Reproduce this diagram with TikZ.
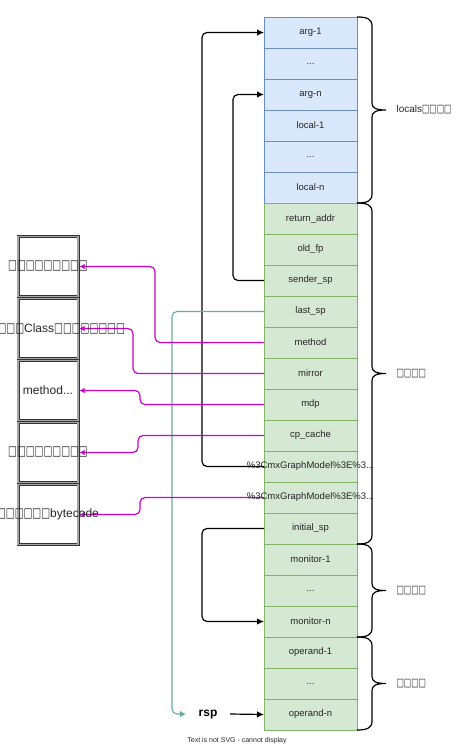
\documentclass[tikz,border=0pt]{standalone}
\usepackage{fontspec}
\setmainfont{Liberation Sans}
\newfontfamily\dvfont{DejaVu Sans}
\usetikzlibrary{arrows.meta}
\definecolor{bfill}{HTML}{DAE8FC}
\definecolor{bstroke}{HTML}{6C8EBF}
\definecolor{gfill}{HTML}{D5E8D4}
\definecolor{gstroke}{HTML}{82B366}
\definecolor{mg}{HTML}{CC00CC}
\definecolor{tl}{HTML}{67AB9F}
\newcommand\tf{\scalebox{0.78}[1.12]{\dvfont\char"25A1}}
\newcommand\curlybr[2]{%
  \pgfmathsetmacro\bmid{(#1+#2)/2}%
  \draw[brc] (357,#1) .. controls (367,#1) and (372,#1+2) .. (372,#1+9)
    -- (372,\bmid-7) .. controls (372,\bmid-2) and (376,\bmid) .. (386,\bmid)
    .. controls (376,\bmid) and (372,\bmid+2) .. (372,\bmid+7)
    -- (372,#2-9) .. controls (372,#2-2) and (367,#2) .. (357,#2);}
\begin{document}
\begin{tikzpicture}[x=1pt,y=-1pt,
  cellfont/.style={font=\fontsize{9.5}{11}\selectfont, text=black!85},
  cell/.style={draw, minimum width=93pt, minimum height=31pt, inner sep=0pt, outer sep=0pt,
    anchor=north west, line width=0.8pt, cellfont},
  bcell/.style={cell, fill=bfill, draw=bstroke},
  gcell/.style={cell, fill=gfill, draw=gstroke},
  lbox/.style={draw=black!80, double=black!35, double distance=1.2pt, line width=0.9pt,
    minimum width=60pt, minimum height=60pt, inner sep=0pt, outer sep=1.5pt, anchor=north west},
  boxtext/.style={font=\fontsize{12}{14}\selectfont, text=black!85},
  blk/.style={draw=black, line width=1.2pt, rounded corners=5pt, -{Latex[length=7pt,width=6.5pt]}},
  mag/.style={draw=mg, line width=1.2pt, rounded corners=5pt, -{Latex[length=5pt,width=5.5pt]}},
  tla/.style={draw=tl, line width=1.1pt, rounded corners=5pt, -{Latex[length=6pt,width=6.5pt]}},
  brc/.style={draw=black, line width=1.2pt},
  brlabel/.style={anchor=west, font=\fontsize{10}{12}\selectfont, text=black!85}
]
\useasboundingbox (0,0) rectangle (474,747);

% stack cells
\node[bcell] (c1) at (264,17) {arg-1};
\node[bcell] (c2) at (264,48) {...};
\node[bcell] (c3) at (264,79) {arg-n};
\node[bcell] (c4) at (264,110) {local-1};
\node[bcell] (c5) at (264,141) {...};
\node[bcell] (c6) at (264,172) {local-n};
\node[gcell] (c7) at (264,203) {return\_addr};
\node[gcell] (c8) at (264,234) {old\_fp};
\node[gcell] (c9) at (264,265) {sender\_sp};
\node[gcell] (c10) at (264,296) {last\_sp};
\node[gcell] (c11) at (264,327) {method};
\node[gcell] (c12) at (264,358) {mirror};
\node[gcell] (c13) at (264,389) {mdp};
\node[gcell] (c14) at (264,420) {cp\_cache};
\node[gcell] (c15) at (264,451) {};
\node[gcell] (c16) at (264,482) {};
\node[gcell] (c17) at (264,513) {initial\_sp};
\node[gcell] (c18) at (264,544) {monitor-1};
\node[gcell] (c19) at (264,575) {...};
\node[gcell] (c20) at (264,606) {monitor-n};
\node[gcell] (c21) at (264,637) {operand-1};
\node[gcell] (c22) at (264,668) {...};
\node[gcell] (c23) at (264,699) {operand-n};

% left boxes
\node[lbox] (b1) at (16.5,235) {};
\node[lbox] (b2) at (16.5,297) {};
\node[lbox] (b3) at (16.5,359) {};
\node[lbox] (b4) at (16.5,421) {};
\node[lbox] (b5) at (16.5,483) {};

% connectors
\draw[blk] (c15.west) -- ++(-62,0) |- (c1.west);
\draw[blk] (c9.west) -- ++(-31,0) |- (c3.west);
\draw[blk] (c17.west) -- ++(-62,0) |- (c20.west);

\node[font=\bfseries\fontsize{12}{14}\selectfont, inner xsep=12.5pt] (rsp) at (208,714) {rsp};
\draw[tla] (c10.west) -- ++(-92,0) |- (rsp.west);
\draw[blk] (rsp.east) -- (c23.west);

\draw[mag] (c11.west) -- ++(-109,0) |- (b1.east);
\draw[mag] (c12.west) -- ++(-131,0) |- (b2.east);
\draw[mag] (c13.west) -- ++(-124,0) |- (b3.east);
\draw[mag] (c14.west) -- ++(-126,0) |- (b4.east);
\draw[mag] (c16.west) -- ++(-124,0) |- (b5.east);

% overflowing texts
\node[cellfont] (t15) at (c15.center) {\%3CmxGraphModel\%3E\%3...};
\node[cellfont] (t16) at (c16.center) {\%3CmxGraphModel\%3E\%3...};
\node[boxtext] (l1) at (b1.center) {\tf\tf\tf\tf\tf\tf\tf\tf\tf};
\node[boxtext] (l2) at (b2.center) {\tf\tf\tf\tf\tf\tf Class\tf\tf\tf\tf\tf\tf\tf\tf};
\node[boxtext] (l3) at (b3.center) {method...};
\node[boxtext] (l4) at (b4.center) {\tf\tf\tf\tf\tf\tf\tf\tf\tf};
\node[boxtext] (l5) at (b5.center) {\tf\tf\tf\tf\tf\tf bytecode};

% braces
\curlybr{17}{203}
\curlybr{203}{544}
\curlybr{544}{637}
\curlybr{637}{730}
\node[brlabel] (bl1) at (393,110) {locals\tf\tf\tf\tf};
\node[brlabel] (bl2) at (393,373.5) {\tf\tf\tf\tf};
\node[brlabel] (bl3) at (393,590.5) {\tf\tf\tf\tf};
\node[brlabel] (bl4) at (393,683.5) {\tf\tf\tf\tf};

\node[font=\fontsize{7}{8}\selectfont, text=black!85] (warn) at (237,741) {Text is not SVG - cannot display};
\end{tikzpicture}
\end{document}
